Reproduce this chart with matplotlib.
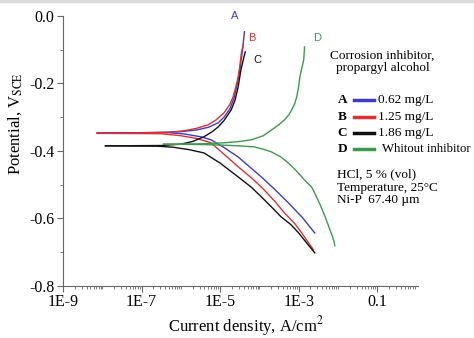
import matplotlib
matplotlib.use("Agg")
import matplotlib.pyplot as plt
import numpy as np
from matplotlib.ticker import FixedLocator, NullFormatter, MultipleLocator

plt.rcParams["font.family"] = "Liberation Serif"
plt.rcParams["mathtext.fontset"] = "stix"

# log10 of current density (A/cm2) and potential (V vs SCE)
# A: 0.62 mg/L
a_ano_logi = [-8.13, -7.0, -6.26, -6.0, -5.6, -5.3, -5.05, -4.9, -4.75, -4.65, -4.56, -4.5, -4.45, -4.41, -4.38]
a_ano_e = [-0.347, -0.346, -0.344, -0.343, -0.338, -0.330, -0.317, -0.300, -0.275, -0.245, -0.20, -0.16, -0.12, -0.08, -0.047]
a_cat_logi = [-8.13, -7.0, -6.3, -5.9, -5.5, -5.23, -4.9, -4.54, -4.2, -3.95, -3.6, -3.26, -2.9, -2.59]
a_cat_e = [-0.347, -0.346, -0.346, -0.350, -0.358, -0.367, -0.390, -0.418, -0.452, -0.477, -0.515, -0.554, -0.598, -0.643]
# B: 1.25 mg/L
b_ano_logi = [-8.13, -7.0, -6.3, -5.9, -5.6, -5.31, -5.1, -4.9, -4.75, -4.67, -4.6, -4.54, -4.5, -4.46, -4.41]
b_ano_e = [-0.348, -0.347, -0.345, -0.340, -0.333, -0.323, -0.308, -0.287, -0.262, -0.240, -0.21, -0.181, -0.15, -0.110, -0.086]
b_cat_logi = [-8.13, -6.5, -6.0, -5.6, -5.23, -4.9, -4.54, -4.2, -3.95, -3.6, -3.36, -3.1, -2.92, -2.75, -2.62]
b_cat_e = [-0.348, -0.349, -0.355, -0.363, -0.376, -0.410, -0.447, -0.480, -0.507, -0.550, -0.584, -0.615, -0.643, -0.672, -0.693]
# C: 1.86 mg/L
c_ano_logi = [-7.92, -6.5, -6.0, -5.7, -5.41, -5.2, -5.05, -4.9, -4.72, -4.62, -4.54, -4.47, -4.4, -4.36]
c_ano_e = [-0.385, -0.384, -0.380, -0.372, -0.358, -0.343, -0.329, -0.310, -0.279, -0.250, -0.210, -0.160, -0.125, -0.107]
c_cat_logi = [-7.92, -6.6, -6.2, -5.8, -5.41, -5.0, -4.54, -4.2, -3.95, -3.7, -3.44, -3.2, -3.0, -2.8, -2.59]
c_cat_e = [-0.385, -0.386, -0.389, -0.396, -0.406, -0.436, -0.477, -0.508, -0.536, -0.565, -0.596, -0.618, -0.643, -0.672, -0.702]
# D: without inhibitor
d_ano_logi = [-6.44, -5.5, -4.9, -4.5, -4.2, -3.9, -3.69, -3.5, -3.36, -3.25, -3.18, -3.1, -3.05, -3.0, -2.97, -2.92, -2.87, -2.85]
d_ano_e = [-0.380, -0.379, -0.376, -0.372, -0.367, -0.355, -0.338, -0.322, -0.308, -0.293, -0.279, -0.260, -0.240, -0.210, -0.181, -0.155, -0.130, -0.092]
d_cat_logi = [-6.44, -5.5, -4.9, -4.5, -4.13, -3.9, -3.69, -3.45, -3.26, -3.05, -2.85, -2.67, -2.59, -2.45, -2.33, -2.23, -2.15, -2.1, -2.08]
d_cat_e = [-0.380, -0.381, -0.383, -0.385, -0.388, -0.395, -0.403, -0.418, -0.436, -0.460, -0.486, -0.507, -0.525, -0.560, -0.594, -0.625, -0.650, -0.668, -0.681]

letters = ["A", "B", "C", "D"]
labels = ["0.62 mg/L", "1.25 mg/L", "1.86 mg/L", "Whitout inhibitor"]
colors = ["#3b3bd0", "#e03030", "#111111", "#3c9a4c"]
curves = [
    (a_ano_logi, a_ano_e, a_cat_logi, a_cat_e),
    (b_ano_logi, b_ano_e, b_cat_logi, b_cat_e),
    (c_ano_logi, c_ano_e, c_cat_logi, c_cat_e),
    (d_ano_logi, d_ano_e, d_cat_logi, d_cat_e),
]
# where the curve letters sit (current, potential)
letter_pos = [(2.4e-5, 0.0), (6.6e-5, -0.065), (9e-5, -0.13), (2.9e-3, -0.065)]

fig = plt.figure(figsize=(4.74, 3.38), dpi=100)
fig.add_artist(plt.Rectangle((0, 0.994), 1, 0.006, color="#dcdcdc", transform=fig.transFigure))
ax = fig.add_axes([0.133, 0.154, 0.749, 0.799])

for (al, ae, cl, ce), col in zip(curves, colors):
    ax.plot(10 ** np.array(cl), ce, color=col, lw=1.0)
    ax.plot(10 ** np.array(al), ae, color=col, lw=1.0)

for (x, y), t, col in zip(letter_pos, letters, colors):
    ax.text(x, y, t, color=col, fontsize=8, family="Liberation Sans",
            ha="center", va="center", clip_on=False)

ax.set_xscale("log")
ax.set_xlim(1e-9, 1.1)
ax.set_ylim(-0.8, 0.0)
xt = [1e-9, 1e-7, 1e-5, 1e-3, 0.1]
xtl = ["1E-9", "1E-7", "1E-5", "1E-3", "0.1"]
ax.set_xticks(xt)
ax.set_xticklabels(xtl)
ax.xaxis.set_minor_locator(FixedLocator(
    [m * 10.0 ** k for k in range(-9, 0) for m in range(1, 10) if not (m == 1 and k % 2 == 1)]))
ax.xaxis.set_minor_formatter(NullFormatter())
ax.set_yticks([0.0, -0.2, -0.4, -0.6, -0.8])
ax.set_yticklabels(["0.0", "-0.2", "-0.4", "-0.6", "-0.8"])
ax.yaxis.set_minor_locator(MultipleLocator(0.1))

for s in ["top", "right"]:
    ax.spines[s].set_visible(False)
for s in ["left", "bottom"]:
    ax.spines[s].set_color("#666666")
ax.tick_params(which="major", direction="out", length=4, color="#666666", labelsize=11.5, pad=2)
ax.tick_params(which="minor", direction="out", length=2, color="#666666")

ax.set_xlabel("Current density, A/cm$^2$", fontsize=12)
ax.xaxis.set_label_coords(0.515, -0.105)
ax.set_ylabel(r"Potential, V$_{\mathrm{SCE}}$", fontsize=12)
ax.yaxis.set_label_coords(-0.11, 0.6)

# annotation / legend block
fig.text(0.807, 0.817, "Corrosion inhibitor,\npropargyl alcohol", fontsize=9.5,
         ha="center", va="center", linespacing=1.1)
row_y = [0.704, 0.654, 0.607, 0.559]
for yy, t, lab, col in zip(row_y, letters, labels, colors):
    fig.text(0.722, yy, t, fontsize=9.5, fontweight="bold", ha="center", va="center")
    fig.add_artist(plt.Line2D([0.747, 0.789], [yy, yy], color=col, lw=2.5,
                              transform=fig.transFigure))
    fig.text(0.797 if t != "D" else 0.806, yy, lab, fontsize=9.5 if t != "D" else 9.2,
             ha="left", va="center")

fig.text(0.711, 0.445, "HCl, 5 % (vol)\nTemperature, 25\u00b0C\nNi-P  67.40 \u00b5m",
         fontsize=9.5, ha="left", va="center", linespacing=1.1)

fig.savefig("out.png", dpi=100)
